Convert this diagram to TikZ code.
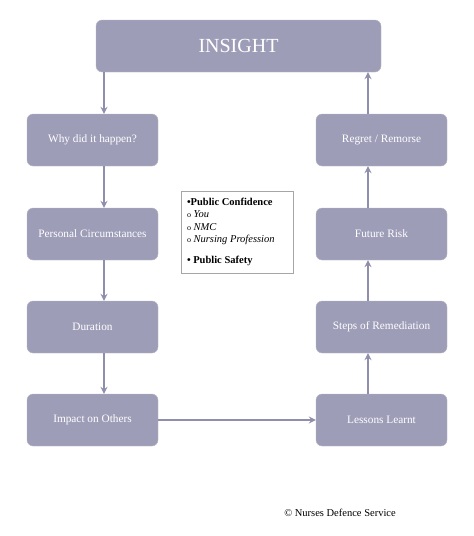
\documentclass[tikz,border=0pt]{standalone}
\usepackage{fontspec}
\setmainfont{Liberation Serif}
\usetikzlibrary{arrows.meta}
\definecolor{boxfill}{HTML}{9E9DB8}
\definecolor{arrowcol}{HTML}{8F8EAC}
\begin{document}
\begin{tikzpicture}[x=1pt, y=-1pt,
    stepbox/.style={rectangle, rounded corners=6pt, fill=boxfill, draw=boxfill!85!black!60,
      line width=0.4pt, text=white, minimum width=131pt, minimum height=52pt,
      font=\fontsize{11.3}{13}\selectfont},
    flow/.style={draw=arrowcol, line width=1.4pt, -{Stealth[length=7pt, width=7pt, inset=2.5pt]}}]
  \useasboundingbox (0,0) rectangle (474,536);
  % Top box
  \node[stepbox, minimum width=285pt, font=\fontsize{20}{24}\selectfont] (insight) at (238.5,46) {INSIGHT};
  % Left column
  \node[stepbox] (why)      at (92.5,140) {Why did it happen?};
  \node[stepbox] (personal) at (92.5,234) {Personal Circumstances};
  \node[stepbox] (duration) at (92.5,327) {Duration};
  \node[stepbox] (impact)   at (92.5,420) {Impact on Others};
  % Right column
  \node[stepbox] (regret)   at (381.5,140) {Regret / Remorse};
  \node[stepbox] (risk)     at (381.5,234) {Future Risk};
  \node[stepbox] (steps)    at (381.5,327) {Steps of Remediation};
  \node[stepbox] (lessons)  at (381.5,420) {Lessons Learnt};
  % Centre text box
  \node[draw=black!35, fill=white, line width=0.5pt, align=left, inner sep=0pt,
    minimum width=112pt, minimum height=82pt, font=\fontsize{10.5}{12.3}\selectfont] (public) at (237,232)
    {\begin{minipage}{100pt}
     \textbf{\textbullet Public Confidence}\\
     {\footnotesize o} \textit{You}\\
     {\footnotesize o} \textit{NMC}\\
     {\footnotesize o} \textit{Nursing Profession}\\[9pt]
     \textbf{\textbullet{} Public Safety}
     \end{minipage}};
  % Copyright
  \node[font=\fontsize{10.5}{12}\selectfont] (copy) at (340,513) {\textcopyright{} Nurses Defence Service};
  % Down the left side
  \coordinate (l0) at (104,0);
  \draw[flow] (l0 |- insight.south) -- (l0 |- why.north);
  \draw[flow] (l0 |- why.south) -- (l0 |- personal.north);
  \draw[flow] (l0 |- personal.south) -- (l0 |- duration.north);
  \draw[flow] (l0 |- duration.south) -- (l0 |- impact.north);
  % Across the bottom
  \draw[flow] (impact) -- (lessons);
  % Up the right side
  \coordinate (r0) at (368,0);
  \draw[flow] (r0 |- lessons.north) -- (r0 |- steps.south);
  \draw[flow] (r0 |- steps.north) -- (r0 |- risk.south);
  \draw[flow] (r0 |- risk.north) -- (r0 |- regret.south);
  \draw[flow] (r0 |- regret.north) -- (r0 |- insight.south);
\end{tikzpicture}
\end{document}
